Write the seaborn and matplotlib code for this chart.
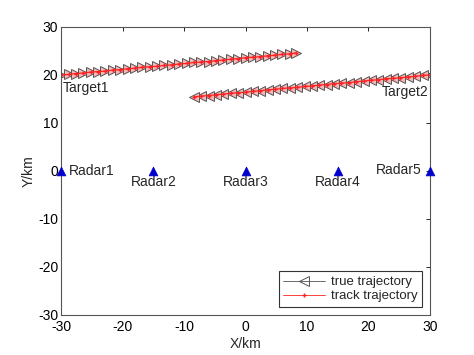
import numpy as np
import pandas as pd
import matplotlib
matplotlib.use("Agg")
import matplotlib.pyplot as plt
import seaborn as sns
from matplotlib.lines import Line2D

# Target 1 (moving right)
t1_x = [-30.0, -28.8, -27.6, -26.4, -25.2, -24.0, -22.8, -21.6, -20.4, -19.2, -18.0,
        -16.8, -15.6, -14.4, -13.2, -12.0, -10.8, -9.6, -8.4, -7.2, -6.0, -4.8,
        -3.6, -2.4, -1.2, 0.0, 1.2, 2.4, 3.6, 4.8, 6.0, 7.2, 8.2]
t1_y = [20.0, 20.1, 20.3, 20.4, 20.6, 20.7, 20.8, 21.0, 21.1, 21.3, 21.4,
        21.6, 21.7, 21.8, 22.0, 22.1, 22.3, 22.4, 22.6, 22.7, 22.8, 23.0,
        23.1, 23.3, 23.4, 23.6, 23.7, 23.8, 24.0, 24.1, 24.3, 24.4, 24.6]

# Target 2 (moving left)
t2_x = [30.0, 28.8, 27.6, 26.4, 25.2, 24.0, 22.8, 21.6, 20.4, 19.2, 18.0,
        16.8, 15.6, 14.4, 13.2, 12.0, 10.8, 9.6, 8.4, 7.2, 6.0, 4.8,
        3.6, 2.4, 1.2, 0.0, -1.2, -2.4, -3.6, -4.8, -6.0, -7.2, -8.4]
t2_y = [20.0, 19.9, 19.7, 19.6, 19.4, 19.3, 19.2, 19.0, 18.9, 18.7, 18.6,
        18.4, 18.3, 18.2, 18.0, 17.9, 17.7, 17.6, 17.4, 17.3, 17.2, 17.0,
        16.9, 16.7, 16.6, 16.4, 16.3, 16.2, 16.0, 15.9, 15.7, 15.6, 15.4]

# Radars
radar_x = [-30, -15, 0, 15, 30]
radar_y = [0, 0, 0, 0, 0]
radar_names = ["Radar1", "Radar2", "Radar3", "Radar4", "Radar5"]

sns.set_style("white")
plt.rcParams["font.family"] = ["Liberation Sans", "DejaVu Sans"]
plt.rcParams["axes.unicode_minus"] = False

fig = plt.figure(figsize=(4.74, 3.55), dpi=100)
ax = fig.add_axes([0.129, 0.113, 0.778, 0.811])

gray = "#555555"
red = "#ff2020"
pink = "#f4b8b8"

# true trajectories
sns.lineplot(x=t1_x, y=t1_y, sort=False, ax=ax, color=gray, lw=0.8, marker=">",
             markersize=6.5, markerfacecolor=pink, markeredgecolor=gray, markeredgewidth=0.7)
sns.lineplot(x=t2_x, y=t2_y, sort=False, ax=ax, color=gray, lw=0.8, marker="<",
             markersize=6.5, markerfacecolor=pink, markeredgecolor=gray, markeredgewidth=0.7)
# track trajectories
sns.lineplot(x=t1_x, y=t1_y, sort=False, ax=ax, color=red, lw=0.9, marker="+",
             markersize=3, markeredgecolor=red, markeredgewidth=1)
sns.lineplot(x=t2_x, y=t2_y, sort=False, ax=ax, color=red, lw=0.9, marker="+",
             markersize=3, markeredgecolor=red, markeredgewidth=1)

# radars
sns.scatterplot(x=radar_x, y=radar_y, ax=ax, marker="^", s=40, color="#0000cc",
                edgecolor="#0000cc", zorder=5, clip_on=False)

fs = 10
ax.text(radar_x[0] + 1.3, radar_y[0], radar_names[0], ha="left", va="center", fontsize=fs)
for i in (1, 2, 3):
    ax.text(radar_x[i], radar_y[i] - 0.9, radar_names[i], ha="center", va="top", fontsize=fs)
ax.text(radar_x[4] - 1.3, radar_y[4] + 0.2, radar_names[4], ha="right", va="center", fontsize=fs)

ax.text(-29.8, 17.2, "Target1", ha="left", va="center", fontsize=fs)
ax.text(29.7, 16.4, "Target2", ha="right", va="center", fontsize=fs)

ax.set_xlim(-30, 30)
ax.set_ylim(-30, 30)
ax.set_xticks(np.arange(-30, 31, 10))
ax.set_yticks(np.arange(-30, 31, 10))
ax.tick_params(direction="in", length=3, width=0.6, top=True, right=True,
               labelsize=fs, colors="black")
ax.tick_params(axis="x", pad=4)
ax.tick_params(axis="y", pad=2)
for s in ax.spines.values():
    s.set_color("#555555")
    s.set_linewidth(0.8)
ax.set_xlabel("X/km", fontsize=fs, labelpad=2)
ax.set_ylabel("Y/km", fontsize=fs, labelpad=2)

handles = [
    Line2D([], [], color=gray, lw=0.6, marker="<", markersize=6.5,
           markerfacecolor="none", markeredgecolor=gray, markeredgewidth=0.7),
    Line2D([], [], color=red, lw=0.6, marker="+", markersize=3,
           markeredgecolor=red, markeredgewidth=1),
]
leg = ax.legend(handles, ["true trajectory", "track trajectory"], loc="lower right",
                fontsize=9.5, frameon=True, fancybox=False, borderaxespad=0.6,
                handlelength=3.2, handletextpad=0.4, borderpad=0.35, labelspacing=0.15)
leg.get_frame().set_edgecolor("black")
leg.get_frame().set_linewidth(0.8)

fig.savefig("out.png", dpi=100)
